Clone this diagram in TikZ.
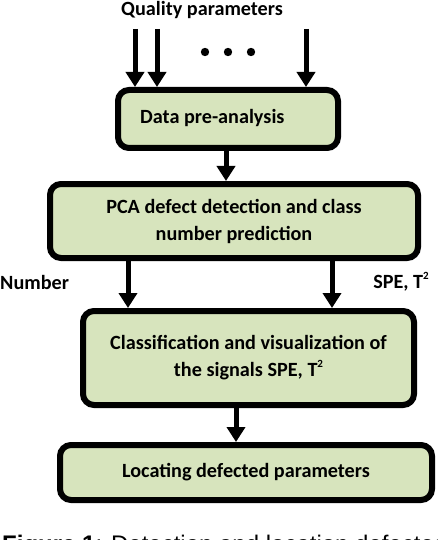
\documentclass[tikz,border=0pt]{standalone}
\usepackage{fontspec}
\setmainfont{Carlito}
\newfontfamily\capfont{Liberation Sans}
\usetikzlibrary{arrows.meta}
\definecolor{boxgreen}{HTML}{D7E4BD}
\tikzset{
  stepbox/.style={draw=black, fill=boxgreen, line width=6pt, rounded corners=11pt,
    inner sep=0pt, align=center, font=\fontsize{20.2}{27}\selectfont\bfseries},
  flow/.style={line width=5pt, -{Triangle[width=18pt,length=15pt]}},
  lbl/.style={inner sep=0pt, font=\fontsize{20.2}{24}\selectfont\bfseries},
}
\newcommand{\sqsup}{\raisebox{0.45em}{\fontsize{11}{12}\selectfont 2}}
\begin{document}
\begin{tikzpicture}[x=1pt,y=-1pt]
\clip (0,0) rectangle (438,540);
\fill[white] (0,0) rectangle (438,540);
% boxes
\node[stepbox, minimum width=220pt, minimum height=58pt] (b1) at (228,119) {};
\node[lbl, anchor=west] (t1) at (140,118) {Data pre-analysis};
\node[stepbox, minimum width=368pt, minimum height=74pt] (b2) at (234,221)
  {PCA defect detection and class\\number prediction};
\node[stepbox, minimum width=331pt, minimum height=94pt] (b3) at (248.5,358)
  {Classification and visualization of\\the signals SPE, T\sqsup};
\node[stepbox, minimum width=372pt, minimum height=55pt] (b4) at (246,472.5)
  {Locating defected parameters};
% labels
\node[lbl] (qp) at (202,10) {Quality parameters};
\node[lbl, anchor=west] (num) at (0,282) {Number};
\node[lbl, anchor=east] (spe) at (429,282) {SPE, T\sqsup};
% input arrows
\coordinate (i1) at (135,29);
\coordinate (i2) at (157,29);
\coordinate (i3) at (306,29);
\draw[flow] (i1) -- (i1 |- b1.north);
\draw[flow] (i2) -- (i2 |- b1.north);
\draw[flow] (i3) -- (i3 |- b1.north);
\foreach \x [count=\i] in {205,228,251} \fill (\x,52) circle[radius=4.2pt] coordinate (d\i);
% flow arrows
\coordinate (a12) at (226,0);
\draw[flow] (a12 |- b1.south) -- (a12 |- b2.north);
\coordinate (a23l) at (128,0);
\coordinate (a23r) at (332,0);
\draw[flow] (a23l |- b2.south) -- (a23l |- b3.north);
\draw[flow] (a23r |- b2.south) -- (a23r |- b3.north);
\coordinate (a34) at (236,0);
\draw[flow] (a34 |- b3.south) -- (a34 |- b4.north);
% caption (cut off by page edge, as in the reference)
\node[anchor=base west, inner sep=0pt, font=\capfont\fontsize{24}{28}\selectfont] (cap) at (2,552)
  {\textbf{Figure 1}: Detection and location defected};
\end{tikzpicture}
\end{document}
